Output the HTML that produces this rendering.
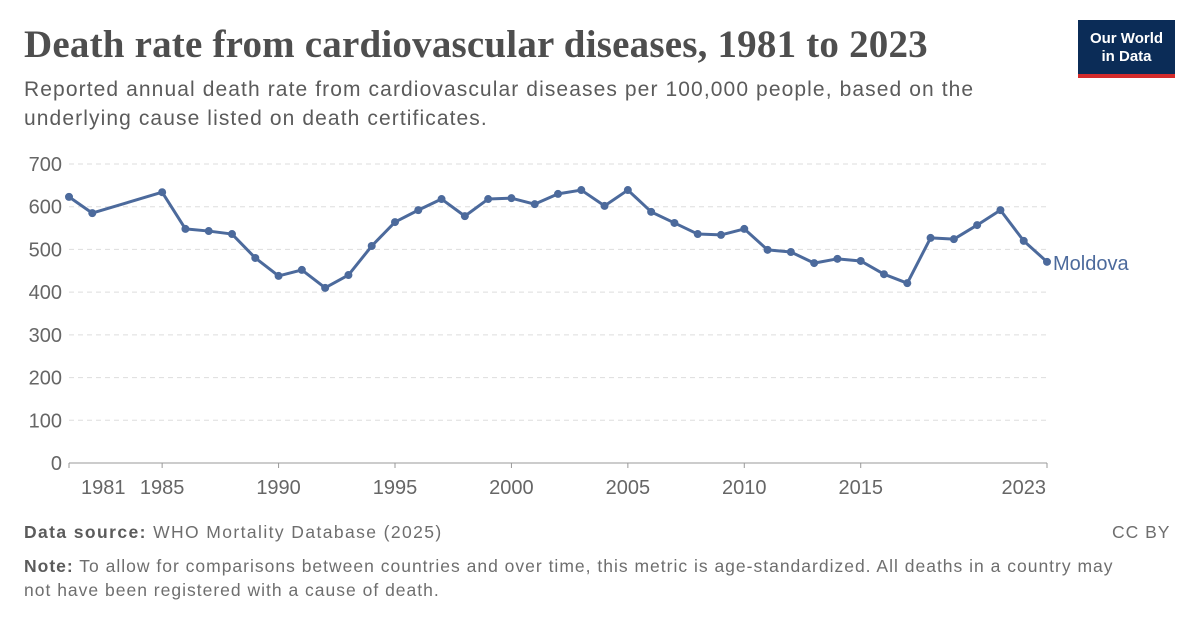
<!DOCTYPE html>
<html><head><meta charset="utf-8">
<style>
body{margin:0;background:#fff;font-family:"Liberation Sans",sans-serif;}
#wrap{position:relative;width:1200px;height:627px;overflow:hidden;}
h1{position:absolute;left:24px;top:22px;margin:0;font-family:"Liberation Serif",serif;font-weight:bold;font-size:39px;color:#4e4e4e;letter-spacing:0.2px;line-height:46px;}
.sub{position:absolute;left:24px;top:75px;font-size:21px;letter-spacing:1.1px;line-height:29px;color:#5b5b5b;width:1000px;}
.logo{position:absolute;left:1078px;top:20px;width:97px;height:58px;background:#0b2c57;color:#fff;font-size:15px;font-weight:bold;text-align:center;line-height:18px;box-sizing:border-box;padding-top:10px;border-bottom:4px solid #d42b2b;}
.foot{position:absolute;left:24px;font-size:17.5px;letter-spacing:1px;color:#6e6e6e;line-height:24px;}
.foot b{color:#5b5b5b;}
</style></head><body>
<div id="wrap">
<h1>Death rate from cardiovascular diseases, 1981 to 2023</h1>
<div class="sub">Reported annual death rate from cardiovascular diseases per 100,000 people, based on the underlying cause listed on death certificates.</div>
<div class="logo">Our World<br>in Data</div>
<svg id="chart" width="1200" height="627" style="position:absolute;left:0;top:0"></svg>
<div class="foot" style="top:520px;letter-spacing:1.4px"><b>Data source:</b> WHO Mortality Database (2025)</div>
<div class="foot" style="top:520px;left:1112px">CC BY</div>
<div class="foot" style="top:554px;width:1105px"><b>Note:</b> To allow for comparisons between countries and over time, this metric is age-standardized. All deaths in a country may not have been registered with a cause of death.</div>
</div>
<script>
const years=[1981,1982,1985,1986,1987,1988,1989,1990,1991,1992,1993,1994,1995,1996,1997,1998,1999,2000,2001,2002,2003,2004,2005,2006,2007,2008,2009,2010,2011,2012,2013,2014,2015,2016,2017,2018,2019,2020,2021,2022,2023];
const values=[623,585,634,548,543,536,480,438,452,410,440,508,564,592,618,578,618,620,606,630,639,602,639,588,562,536,534,548,499,494,468,478,473,442,421,527,524,557,592,520,471];
const yTicks=[0,100,200,300,400,500,600,700];
const xTicks=[1981,1985,1990,1995,2000,2005,2010,2015,2023];
const NS="http://www.w3.org/2000/svg";
const svg=document.getElementById('chart');
const x=v=>69+(v-1981)*(1047-69)/42;
const y=v=>463-v*(463-164)/700;
function mk(t,a){const e=document.createElementNS(NS,t);for(const k in a)e.setAttribute(k,a[k]);svg.appendChild(e);return e;}
yTicks.forEach(t=>{
  if(t>0){const l=mk('line',{x1:69,x2:1047,y1:y(t),y2:y(t),stroke:'#ddd','stroke-dasharray':'5,4'});
  
  }
  const tx=mk('text',{x:62,y:y(t)+7,'text-anchor':'end','font-size':20,fill:'#666','font-family':'Liberation Sans'});
  tx.textContent=t;
  
  
});
const ax=mk('line',{x1:69,x2:1047,y1:463,y2:463,stroke:'#999'});


xTicks.forEach(t=>{
  const tk=mk('line',{x1:x(t),x2:x(t),y1:463,y2:468,stroke:'#999'});
  
  
  let lx=x(t), anchor='middle';
  if(t===1981){lx=x(t)+12;anchor='start';}
  if(t===2023){lx=x(t)-1;anchor='end';}
  const tx=mk('text',{x:lx,y:494,'text-anchor':anchor,'font-size':20,fill:'#666','font-family':'Liberation Sans'});
  tx.textContent=t;
  
  
});
const pl=mk('polyline',{points:years.map((yr,i)=>x(yr)+','+y(values[i])).join(' '),fill:'none',stroke:'#4c6a9c','stroke-width':3,'stroke-linejoin':'round'});


years.forEach((yr,i)=>{
  const c=mk('circle',{cx:x(yr),cy:y(values[i]),r:4,fill:'#4c6a9c'});
  
  
});
const lb=mk('text',{x:1053,y:y(values[values.length-1])+8,'font-size':20,fill:'#4c6a9c','font-family':'Liberation Sans'});
lb.textContent='Moldova';


</script>
</body></html>
